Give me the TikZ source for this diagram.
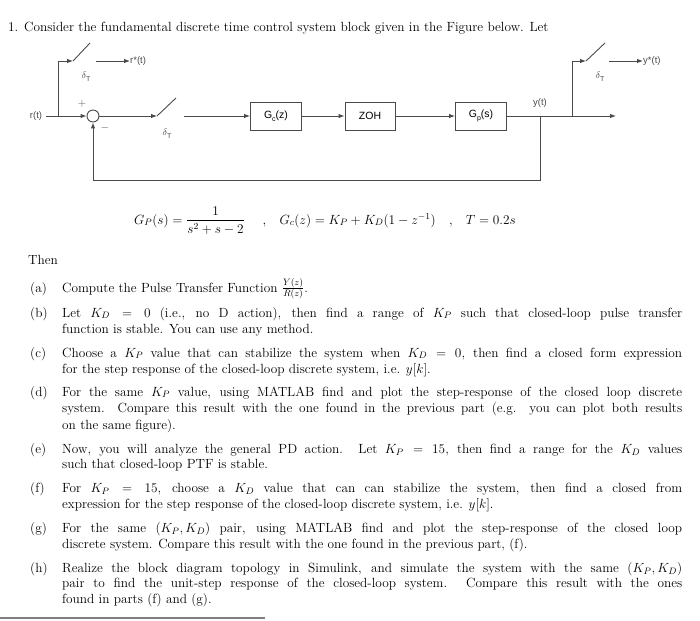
\RequirePackage{fix-cm}
\documentclass[tikz,border=0pt]{standalone}
\usepackage{amsmath}
\usepackage{fontspec}
\newfontfamily\dsans{Liberation Sans}
\usetikzlibrary{arrows.meta}
\definecolor{ln}{HTML}{4A4A4A}
\tikzset{
  tx/.style={anchor=base west,inner sep=0pt,font=\fontsize{13.3}{16}\selectfont},
  lab/.style={inner sep=0pt,font=\dsans\fontsize{9.5}{11}\selectfont,text=ln},
  blk/.style={draw=ln,line width=0.9pt,minimum width=51pt,minimum height=28pt,inner sep=0pt,font=\dsans\fontsize{10.5}{12}\selectfont},
  wire/.style={draw=ln,line width=0.9pt},
  arr/.style={wire,-{Latex[length=6pt,width=4.5pt]}},
}
\newcommand{\jl}[1]{\makebox[620pt][s]{#1}}
\newcommand{\dT}{$\delta$\raisebox{-3pt}{\scriptsize T}}
\begin{document}
\begin{tikzpicture}[x=1pt,y=-1pt]
\useasboundingbox (0,0) rectangle (700,620);
% title
\node[tx] (title) at (8,32) {1. Consider the fundamental discrete time control system block given in the Figure below. Let};
% diagram
\node[lab] (r) at (36,116) {r(t)};
\node[draw=ln,line width=0.9pt,circle,minimum size=12pt,inner sep=0pt] (sum) at (93,116) {};
\coordinate (b1) at (58,116);
\coordinate (s1a) at (73,61); \coordinate (s1b) at (90,43);
\coordinate (o1a) at (96,61); \node[lab,anchor=west] (rs) at (130,61) {r*(t)};
\coordinate (s2a) at (157,116); \coordinate (s2b) at (176,98);
\coordinate (o2a) at (184,116);
\node[blk] (gc) at (276,116) {G\raisebox{-2.5pt}{\scriptsize c}(z)};
\node[blk,minimum width=50pt] (zoh) at (370,116) {ZOH};
\node[blk] (gp) at (481,116) {G\raisebox{-2.5pt}{\scriptsize p}(s)};
\coordinate (tap) at (540,116);
\coordinate (b2) at (572,116);
\coordinate (yend) at (616,116);
\coordinate (s3a) at (586,61); \coordinate (s3b) at (605,43);
\coordinate (o3a) at (609,61); \node[lab,anchor=west] (ys) at (643,61) {y*(t)};
\node[lab] (yt) at (540,103) {y(t)};
\node[lab] (d1) at (86,77) {\dT};
\node[lab] (d2) at (167,134) {\dT};
\node[lab] (d3) at (600,77) {\dT};
\node[inner sep=0pt,text=ln,font=\fontsize{11}{11}\selectfont] (plus) at (82,104) {+};
\node[inner sep=0pt,text=ln,font=\fontsize{11}{11}\selectfont] (minus) at (105,128) {$-$};
\draw[arr] (r.east) ++(4,0) -- (sum.west);
\draw[arr] (b1) |- (s1a);
\draw[wire] (s1a) -- (s1b);
\draw[arr] (o1a) -- (rs.west);
\draw[arr] (sum.east) -- (s2a);
\draw[wire] (s2a) -- (s2b);
\draw[arr] (o2a) -- (gc.west);
\draw[arr] (gc.east) -- (zoh.west);
\draw[arr] (zoh.east) -- (gp.west);
\draw[arr] (gp.east) -- (yend);
\draw[arr] (b2) |- (s3a);
\draw[wire] (s3a) -- (s3b);
\draw[arr] (o3a) -- (ys.west);
\draw[arr] (tap) -- (540,180) -| (sum.south);
% equations
\node[tx] (eq) at (134,224) {$G_P(s) = \dfrac{1}{s^2+s-2}$\quad\ ,\quad $G_c(z) = K_P + K_D(1-z^{-1})$\quad ,\quad $T = 0.2s$};
\node[tx] (then) at (28,264) {Then};
% items
\node[tx] (la) at (30,292) {(a)}; \node[tx] (a1) at (62,292) {Compute the Pulse Transfer Function $\frac{Y(z)}{R(z)}$.};
\node[tx] (lb) at (30,317) {(b)}; \node[tx] (b1t) at (62,317) {\jl{Let $K_D = 0$ (i.e., no D action), then find a range of $K_P$ such that closed-loop pulse transfer}};
\node[tx] (b2t) at (62,333) {function is stable. You can use any method.};
\node[tx] (lc) at (30,357) {(c)}; \node[tx] (c1) at (62,357) {\jl{Choose a $K_P$ value that can stabilize the system when $K_D=0$, then find a closed form expression}};
\node[tx] (c2) at (62,373) {for the step response of the closed-loop discrete system, i.e. $y[k]$.};
\node[tx] (ld) at (30,396) {(d)}; \node[tx] (d1t) at (62,396) {\jl{For the same $K_P$ value, using MATLAB find and plot the step-response of the closed loop discrete}};
\node[tx] (d2t) at (62,412) {\jl{system. Compare this result with the one found in the previous part (e.g. you can plot both results}};
\node[tx] (d3t) at (62,429) {on the same figure).};
\node[tx] (le) at (30,453) {(e)}; \node[tx] (e1) at (62,453) {\jl{Now, you will analyze the general PD action. Let $K_P = 15$, then find a range for the $K_D$ values}};
\node[tx] (e2) at (62,468) {such that closed-loop PTF is stable.};
\node[tx] (lf) at (30,492) {(f)}; \node[tx] (f1) at (62,492) {\jl{For $K_P = 15$, choose a $K_D$ value that can can stabilize the system, then find a closed from}};
\node[tx] (f2) at (62,508) {expression for the step response of the closed-loop discrete system, i.e. $y[k]$.};
\node[tx] (lg) at (30,532) {(g)}; \node[tx] (g1) at (62,532) {\jl{For the same $(K_P, K_D)$ pair, using MATLAB find and plot the step-response of the closed loop}};
\node[tx] (g2) at (62,548) {discrete system. Compare this result with the one found in the previous part, (f).};
\node[tx] (lh) at (30,572) {(h)}; \node[tx] (h1) at (62,572) {\jl{Realize the block diagram topology in Simulink, and simulate the system with the same $(K_P,K_D)$}};
\node[tx] (h2) at (62,587) {\jl{pair to find the unit-step response of the closed-loop system. Compare this result with the ones}};
\node[tx] (h3) at (62,603) {found in parts (f) and (g).};
\draw[gray,line width=1.5pt] (0,618) -- (265,618);
\end{tikzpicture}
\end{document}
